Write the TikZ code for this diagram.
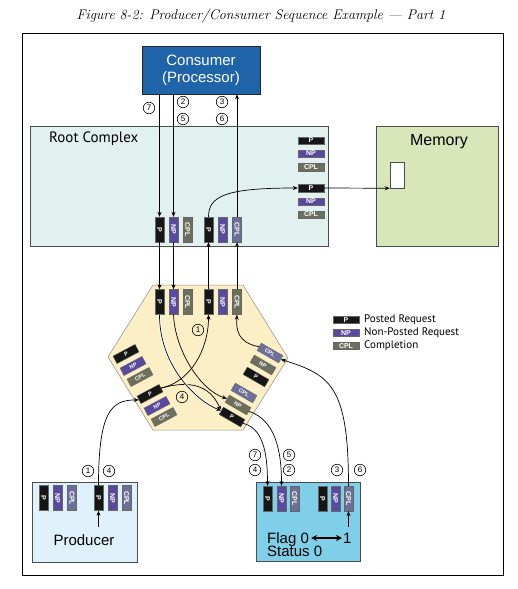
\documentclass[tikz,border=0pt]{standalone}
\usepackage{fontspec}
\newfontfamily\arialf{Liberation Sans}
\newfontfamily\myrf{PT Sans}
\usetikzlibrary{arrows.meta}
\definecolor{tP}{HTML}{161616}
\definecolor{tNP}{HTML}{5A49A0}
\definecolor{tCo}{HTML}{6E6E5C}
\definecolor{tCb}{HTML}{6C7098}
\definecolor{consblue}{HTML}{1F64A9}
\definecolor{rcfill}{HTML}{E1F1F0}
\definecolor{memfill}{HTML}{D8E6B9}
\definecolor{hexfill}{HTML}{FCEFC6}
\definecolor{prodfill}{HTML}{DFF2FB}
\definecolor{epfill}{HTML}{7FCFE8}
\newcommand{\vtxt}[1]{\rotatebox{-90}{#1}}
\begin{document}
\begin{tikzpicture}[x=1pt,y=-1pt,
  tile/.style={draw=black!60, line width=0.3pt, inner sep=0pt, text=white,
    font=\arialf\bfseries\fontsize{7}{7}\selectfont},
  vt/.style={tile, minimum width=9pt, minimum height=25pt},
  ht/.style={tile, minimum width=26pt, minimum height=7.5pt},
  angt/.style={tile, minimum width=25pt, minimum height=8.5pt, font=\arialf\bfseries\fontsize{5.5}{5.5}\selectfont},
  lt/.style={tile, minimum width=26pt, minimum height=7pt},
  pc/.style={fill=tP}, npc/.style={fill=tNP}, cpo/.style={fill=tCo}, cpb/.style={fill=tCb},
  num/.style={circle, draw, line width=0.6pt, inner sep=0pt, minimum size=11.5pt,
    font=\arialf\fontsize{8}{8}\selectfont},
  box/.style={draw=black!70, line width=0.6pt, inner sep=0pt},
  lbl/.style={inner sep=0pt, font=\arialf\fontsize{15}{15}\selectfont},
  leg/.style={inner sep=0pt, anchor=west, font=\myrf\fontsize{11}{11}\selectfont},
  arr/.style={-{Stealth[length=5pt,width=4pt]}, line width=0.7pt}]
\useasboundingbox (0,0) rectangle (518,589);
% title and frame
\node[inner sep=0pt, font=\itshape\fontsize{14}{14}\selectfont] (title) at (261,16)
  {Figure 8-2: Producer/Consumer Sequence Example --- Part 1};
\draw[line width=0.9pt] (22,33) rectangle (503,575);

% consumer
\node[box, draw=black!85, fill=consblue, minimum width=118pt, minimum height=48pt,
  text=white, align=center, font=\arialf\fontsize{15}{17}\selectfont] (cons) at (201,70)
  {Consumer\\(Processor)};

% root complex
\node[box, fill=rcfill, minimum width=298pt, minimum height=120pt, anchor=north west] (rc) at (30,126) {};
\node[inner sep=0pt, anchor=base west, font=\myrf\fontsize{15}{15}\selectfont] (rclbl) at (49,142) {Root Complex};

% memory
\node[box, fill=memfill, minimum width=122pt, minimum height=120pt, anchor=north west] (mem) at (376,126) {};
\node[lbl, anchor=base, font=\arialf\fontsize{16}{16}\selectfont] (memlbl) at (439,145) {Memory};
\node[box, fill=white, line width=0.5pt, minimum width=14pt, minimum height=26pt] (mslot) at (397,175) {};

% root complex tiles
\node[vt,pc]  (rcP1)  at (159.5,229.5) {\vtxt{P}};
\node[vt,npc] (rcNP1) at (173.5,229.5) {\vtxt{NP}};
\node[vt,cpo] (rcC1)  at (187.5,229.5) {\vtxt{CPL}};
\node[vt,pc]  (rcP2)  at (208.5,229.5) {\vtxt{P}};
\node[vt,npc] (rcNP2) at (222.5,229.5) {\vtxt{NP}};
\node[vt,cpb] (rcC2)  at (237,229.5) {\vtxt{CPL}};
\node[ht,pc]  (rhP1)  at (311,140.5) {P};
\node[ht,npc] (rhNP1) at (311,153.5) {NP};
\node[ht,cpo] (rhC1)  at (311,167) {CPL};
\node[ht,pc]  (rhP2)  at (311,188) {P};
\node[ht,npc] (rhNP2) at (311,201.5) {NP};
\node[ht,cpo] (rhC2)  at (311,214.5) {CPL};

% switch hexagon
\draw[fill=hexfill, draw=black!45, line width=0.5pt]
  (153,285) -- (243,285) -- (288,358) -- (243,430) -- (153,430) -- (108,357) -- cycle;
\node[vt,pc]  (hP1)  at (159.5,302) {\vtxt{P}};
\node[vt,npc] (hNP1) at (173.5,302) {\vtxt{NP}};
\node[vt,cpo] (hC1)  at (187.5,302) {\vtxt{CPL}};
\node[vt,pc]  (hP2)  at (208.5,302) {\vtxt{P}};
\node[vt,npc] (hNP2) at (222.5,302) {\vtxt{NP}};
\node[vt,cpo] (hC2)  at (237,302) {\vtxt{CPL}};
\node[angt,pc,rotate=28]  (ulP)  at (126,354) {P};
\node[angt,npc,rotate=28] (ulNP) at (133,366) {NP};
\node[angt,cpo,rotate=28] (ulC)  at (140,377) {CPL};
\node[angt,pc,rotate=28]  (llP)  at (150,394) {P};
\node[angt,npc,rotate=28] (llNP) at (157,406) {NP};
\node[angt,cpo,rotate=28] (llC)  at (164,417) {CPL};
\node[angt,cpb,rotate=-30] (urC)  at (270,353) {CPL};
\node[angt,cpo,rotate=-30] (urNP) at (263,365) {NP};
\node[angt,pc,rotate=-30]  (urP)  at (256,377) {P};
\node[angt,cpb,rotate=-30] (lrC)  at (244,393) {CPL};
\node[angt,cpo,rotate=-30] (lrNP) at (238,405) {NP};
\node[angt,pc,rotate=-30]  (lrP)  at (232,417) {P};

% legend
\node[lt,pc]  (lgP)  at (346,320) {P};
\node[lt,npc] (lgNP) at (346,333) {NP};
\node[lt,cpo] (lgC)  at (346,346) {CPL};
\node[leg] (lgPt)  at (364,320) {Posted Request};
\node[leg] (lgNPt) at (364,333) {Non-Posted Request};
\node[leg] (lgCt)  at (364,346) {Completion};

% producer
\node[box, fill=prodfill, minimum width=105pt, minimum height=80pt, anchor=north west] (prod) at (32,482) {};
\node[lbl, anchor=base] (prodlbl) at (84,545) {Producer};
\node[vt,pc]  (prP1)  at (43.5,498) {\vtxt{P}};
\node[vt,npc] (prNP1) at (57.5,498) {\vtxt{NP}};
\node[vt,cpb] (prC1)  at (72,498) {\vtxt{CPL}};
\node[vt,pc]  (prP2)  at (98.5,498) {\vtxt{P}};
\node[vt,npc] (prNP2) at (112.5,498) {\vtxt{NP}};
\node[vt,cpb] (prC2)  at (126.5,498) {\vtxt{CPL}};
\coordinate (prIn) at (98.5,527);

% endpoint (consumer side)
\node[box, fill=epfill, minimum width=104pt, minimum height=79pt, anchor=north west] (ep) at (256,482) {};
\node[vt,pc]  (epP1)  at (267.5,498.5) {\vtxt{P}};
\node[vt,npc] (epNP1) at (281.5,498.5) {\vtxt{NP}};
\node[vt,cpb] (epC1)  at (294.5,498.5) {\vtxt{CPL}};
\node[vt,pc]  (epP2)  at (322.5,498.5) {\vtxt{P}};
\node[vt,npc] (epNP2) at (335.5,498.5) {\vtxt{NP}};
\node[vt,cpb] (epC2)  at (348.5,498.5) {\vtxt{CPL}};
\coordinate (epIn) at (348.5,527);
\node[lbl, anchor=base west] (flag) at (267,543) {Flag 0};
\node[lbl, anchor=base west] (one) at (343,543) {1};
\node[lbl, anchor=base west] (status) at (267,556) {Status 0};
\draw[{Stealth[length=6pt,width=6pt]}-{Stealth[length=6pt,width=6pt]}, line width=1.6pt]
  ([shift={(2pt,5pt)}]flag.base east) -- ([shift={(-1pt,5pt)}]one.base west);

% connectors: consumer <-> root complex
\draw[arr] (rcP1.north |- cons.south) -- (rcP1.north);
\draw[arr] (rcNP1.north |- cons.south) -- (rcNP1.north);
\draw[arr] (rcC2.north) -- (rcC2.north |- cons.south);
% root complex -> memory
\draw[arr] (rcP2.north) .. controls (208.5,196) and (226,188) .. (rhP2.west);
\draw[arr] (rhP2.east) -- (mslot.south west);
% root complex <-> switch
\draw[arr] (rcP1.south) -- (hP1.north);
\draw[arr] (rcNP1.south) -- (hNP1.north);
\draw[arr] (hP2.north) -- (rcP2.south);
\draw[arr] (hC2.north) -- (rcC2.south);
% inside switch
\draw[arr] (llP.east) .. controls (190,380) and (210,385) .. (lrP.west);
\draw[arr, preaction={draw=white, line width=2.4pt, -}] (hP1.south) .. controls (159.5,365) and (195,400) .. (lrP.west);
\draw[arr] (hNP1.south) .. controls (175,350) and (200,390) .. (lrNP.west);
\draw[arr] (llP.east) .. controls (190,382) and (208.5,350) .. (hP2.south);
\draw[arr] (urC.west) .. controls (238,343) and (236,330) .. (hC2.south);
% switch <-> producer / endpoint
\draw[arr] (prP2.north) .. controls (98.5,410) and (112,400) .. (llP.west);
\draw[arr] (lrP.east) .. controls (262,428) and (267.5,450) .. (epP1.north);
\draw[arr] (lrNP.east) .. controls (275,420) and (281.5,450) .. (epNP1.north);
\draw[arr] (epC2.north) .. controls (348.5,385) and (330,375) .. (urC.east);
\draw[arr] (prIn) -- (prP2.south);
\draw[arr] (epIn) -- (epC2.south);

% step numbers
\node[num] (c7a) at (149,108) {7};
\node[num] (c2a) at (183,102) {2};
\node[num] (c5a) at (183,119) {5};
\node[num] (c3a) at (222,102) {3};
\node[num] (c6a) at (222,119) {6};
\node[num] (c1b) at (198,330) {1};
\node[num] (c4b) at (182,397) {4};
\node[num] (c1c) at (88,471) {1};
\node[num] (c4c) at (109,471) {4};
\node[num] (c7d) at (255,455) {7};
\node[num] (c4d) at (255,470) {4};
\node[num] (c5d) at (289,455) {5};
\node[num] (c2d) at (289,470) {2};
\node[num] (c3d) at (337,470) {3};
\node[num] (c6d) at (360,470) {6};
\end{tikzpicture}
\end{document}
